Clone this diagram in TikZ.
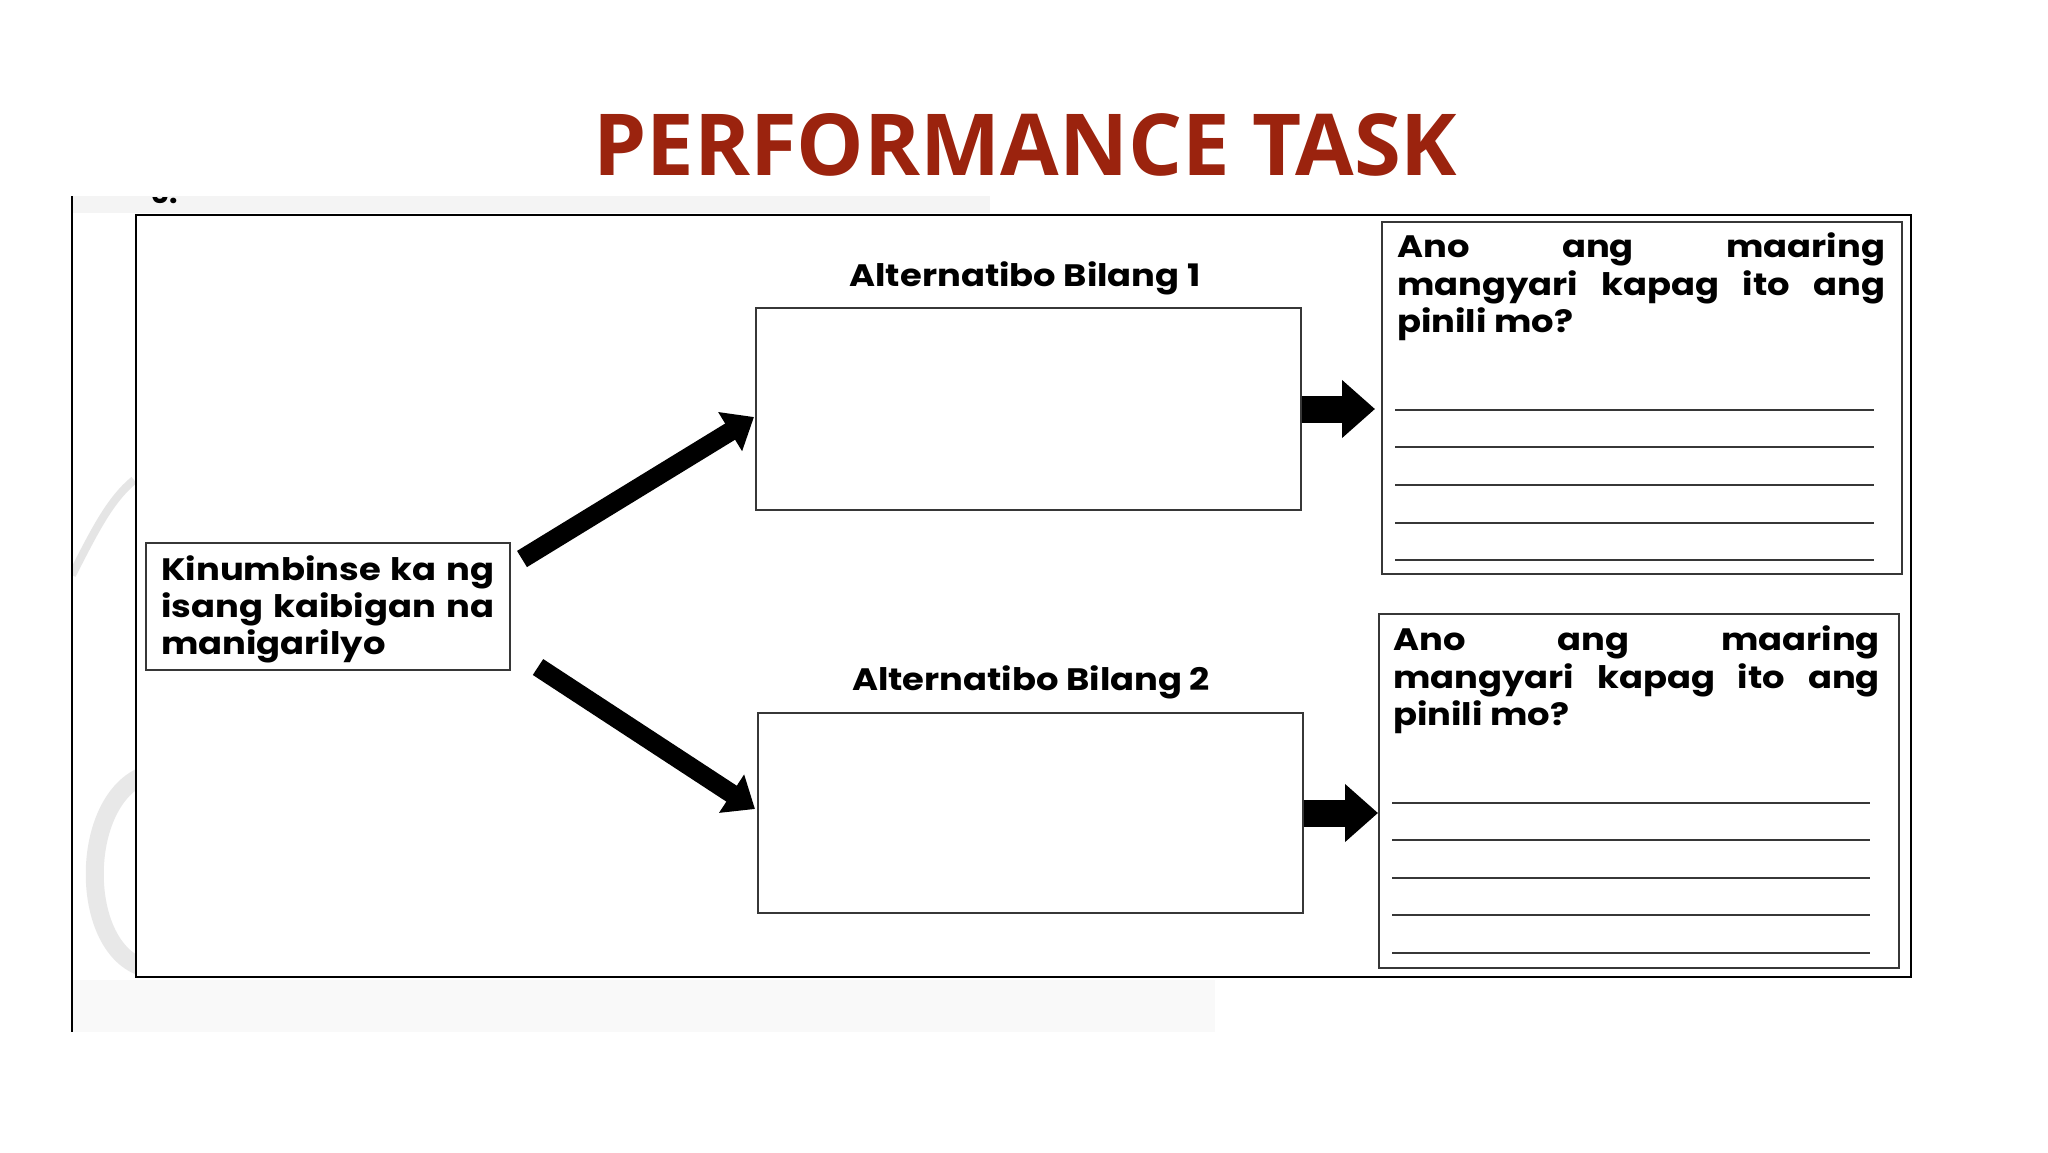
\documentclass[tikz,border=0pt]{standalone}
\usepackage{graphicx}
\usepackage{fontspec}
\setmainfont{Poppins}
\newfontfamily\titlefont{Open Sans}
\usetikzlibrary{arrows.meta,calc}
\definecolor{titlered}{RGB}{155,35,14}
\definecolor{boxline}{RGB}{55,55,55}
\newcommand{\gline}[2]{\scalebox{1.14}[1]{\makebox[#1][s]{#2}}}
\newcommand{\gtext}[1]{\scalebox{1.14}[1]{#1}}
\tikzset{
  wbox/.style={draw=boxline, line width=2pt, inner sep=0pt, anchor=north west},
  txt/.style={anchor=base west, inner sep=0pt, font=\fontsize{31}{37}\selectfont\bfseries},
  lbl/.style={anchor=base, inner sep=0pt, font=\fontsize{31}{37}\selectfont\bfseries},
  rulel/.style={draw=boxline, line width=1.6pt},
  diag/.style={line width=19pt, -{Triangle[length=28pt,width=44pt]}},
  blockarrow/.style={line width=27pt, -{Triangle[length=33pt,width=56pt]}},
}
\begin{document}
\begin{tikzpicture}[x=1pt,y=-1pt]
\useasboundingbox (0,0) rectangle (2048,1152);
\fill[white] (0,0) rectangle (2048,1152);
% faint scan artefacts
\fill[gray!9] (72,196) rectangle (990,213);
\fill[gray!5] (72,980) rectangle (1215,1032);
\begin{scope}
\clip (72,196) rectangle (136,1032);
\draw[gray!18, line width=18pt] (145,775) .. controls (78,800) and (78,950) .. (145,968);
\draw[gray!20, line width=8pt] (72,575) .. controls (95,530) and (110,500) .. (134,480);
\end{scope}
\begin{scope}
\clip (72,197) rectangle (300,215);
\node[anchor=base west, inner sep=0pt, font=\fontsize{30}{30}\selectfont\bfseries] (six) at (150,203) {6.};
\end{scope}
\draw[line width=1.5pt] (72,196) -- (72,1032);
% title
\node[anchor=base west, inner sep=0pt, text=titlered] (title) at (593,175)
  {\resizebox{864pt}{62pt}{\titlefont\bfseries PERFORMANCE TASK}};
% outer frame
\draw[line width=2.6pt] (136,215) rectangle (1911,977);
% boxes
\node[wbox, minimum width=364pt, minimum height=127pt] (kin) at (145,542) {};
\node[wbox, minimum width=545pt, minimum height=202pt] (alt1) at (755,307) {};
\node[wbox, minimum width=545pt, minimum height=200pt] (alt2) at (757,712) {};
\node[wbox, minimum width=520pt, minimum height=352pt] (q1) at (1381,221) {};
\node[wbox, minimum width=520pt, minimum height=354pt] (q2) at (1378,613) {};
% texts
\node[txt] (k1) at (161,580) {\gline{292pt}{Kinumbinse ka ng}};
\node[txt] (k2) at (161,617) {\gline{292pt}{isang kaibigan na}};
\node[txt] (k3) at (161,654) {\gtext{manigarilyo}};
\node[lbl] (l1) at (1025,286) {\gtext{Alternatibo Bilang 1}};
\node[lbl] (l2) at (1031,690) {\gtext{Alternatibo Bilang 2}};
\node[txt] (a1) at (1397,257) {\gline{428pt}{Ano ang maaring}};
\node[txt] (a2) at (1397,295) {\gline{428pt}{mangyari kapag ito ang}};
\node[txt] (a3) at (1397,332) {\gtext{pinili mo?}};
\node[txt] (b1) at (1393,650) {\gline{427pt}{Ano ang maaring}};
\node[txt] (b2) at (1393,688) {\gline{427pt}{mangyari kapag ito ang}};
\node[txt] (b3) at (1393,725) {\gtext{pinili mo?}};
% answer lines
\foreach \y in {410,447,485,523,560} \draw[rulel] (1395,\y) -- (1874,\y);
\foreach \y in {803,840,878,915,953} \draw[rulel] (1392,\y) -- (1870,\y);
% arrows
\coordinate (t1) at (522,559);
\coordinate (h1) at (754,417);
\coordinate (t2) at (538,667);
\coordinate (h2) at (755,809);
\draw[diag] (t1) -- (h1);
\draw[diag] (t2) -- (h2);
\draw[blockarrow, shorten >=6pt] (alt1.east) -- (alt1.east -| q1.west);
\draw[blockarrow] (alt2.east) -- (alt2.east -| q2.west);
\end{tikzpicture}
\end{document}
